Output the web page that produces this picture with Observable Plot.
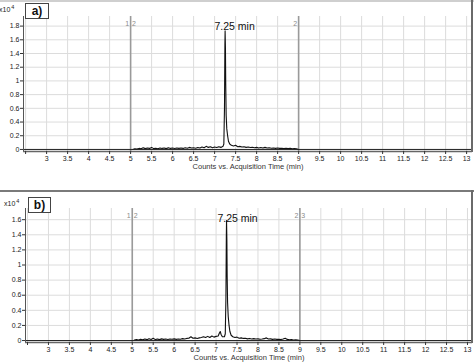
<!DOCTYPE html>
<html><head><meta charset="utf-8">
<script src="https://cdn.jsdelivr.net/npm/d3@7"></script>
<script src="https://cdn.jsdelivr.net/npm/@observablehq/plot@0.6"></script>
<style>
body{margin:0;background:#fff;font-family:"Liberation Sans",Arial,sans-serif;}
#wrap{position:relative;width:474px;height:364px;overflow:hidden;background:#fff;}
.abs{position:absolute;}
.tag{position:absolute;border:1px solid #444;background:#fff;font-weight:bold;font-size:12px;line-height:14px;text-align:center;color:#111;box-sizing:border-box;}
.exp{position:absolute;font-size:7px;color:#222;white-space:nowrap;line-height:8px;}
.exp sup{font-size:5.5px;vertical-align:3px;margin-left:1px;}
</style></head><body><div id="wrap"></div>
<script>
// ---- data (counts in units of 10^4) ----
const timesA = [5.05,5.1,5.15,5.2,5.25,5.3,5.35,5.4,5.45,5.5,5.55,5.6,5.65,5.7,5.75,5.8,5.85,5.9,5.95,6.0,6.05,6.1,6.15,6.2,6.25,6.3,6.35,6.4,6.45,6.5,6.55,6.6,6.65,6.7,6.75,6.8,6.85,6.9,6.95,7.0,7.05,7.1,7.15,7.2,7.22,7.235,7.245,7.25,7.258,7.265,7.275,7.29,7.31,7.33,7.36,7.4,7.45,7.5,7.55,7.6,7.65,7.7,7.75,7.8,7.85,7.9,7.95,8.0,8.05,8.1,8.15,8.2,8.25,8.3,8.35,8.4,8.45,8.5,8.55,8.6,8.65,8.7,8.75,8.8,8.85,8.9,8.95,9.0];
const countsA = [0.0,0.01,0.005,0.015,0.01,0.025,0.012,0.02,0.015,0.03,0.012,0.018,0.01,0.022,0.015,0.02,0.012,0.025,0.015,0.02,0.014,0.022,0.016,0.02,0.015,0.025,0.018,0.03,0.02,0.025,0.018,0.028,0.02,0.035,0.025,0.045,0.03,0.04,0.025,0.035,0.028,0.04,0.03,0.045,0.08,0.6,1.52,1.73,1.48,0.95,0.5,0.3,0.2,0.12,0.08,0.06,0.05,0.06,0.04,0.045,0.035,0.04,0.03,0.035,0.028,0.032,0.025,0.03,0.022,0.028,0.02,0.03,0.022,0.025,0.018,0.022,0.016,0.02,0.015,0.018,0.014,0.016,0.012,0.015,0.01,0.012,0.008,0.0];

const timesB = [5.05,5.1,5.15,5.2,5.25,5.3,5.35,5.4,5.45,5.5,5.55,5.6,5.65,5.7,5.75,5.8,5.85,5.9,5.95,6.0,6.05,6.1,6.15,6.2,6.25,6.3,6.35,6.4,6.45,6.5,6.55,6.6,6.65,6.7,6.75,6.8,6.85,6.9,6.95,7.0,7.05,7.08,7.1,7.12,7.15,7.2,7.22,7.235,7.245,7.25,7.258,7.265,7.275,7.29,7.31,7.33,7.36,7.4,7.45,7.5,7.55,7.6,7.65,7.7,7.75,7.8,7.85,7.9,7.95,8.0,8.05,8.1,8.15,8.2,8.25,8.3,8.35,8.4,8.45,8.5,8.55,8.6,8.65,8.7,8.75,8.8,8.85,8.9,8.95,9.0];
const countsB = [0.005,0.012,0.008,0.018,0.01,0.02,0.012,0.025,0.015,0.03,0.012,0.02,0.012,0.022,0.015,0.02,0.014,0.02,0.016,0.022,0.015,0.02,0.018,0.025,0.02,0.028,0.03,0.05,0.03,0.035,0.028,0.035,0.04,0.05,0.04,0.055,0.04,0.06,0.045,0.055,0.06,0.1,0.12,0.08,0.05,0.05,0.09,0.55,1.38,1.59,1.33,0.85,0.5,0.32,0.2,0.12,0.07,0.05,0.04,0.045,0.03,0.035,0.028,0.03,0.022,0.028,0.02,0.025,0.02,0.022,0.018,0.02,0.025,0.035,0.02,0.022,0.015,0.02,0.015,0.018,0.014,0.02,0.03,0.015,0.01,0.012,0.008,0.01,0.006,0.0];

const xTicks = [2.5,3,3.5,4,4.5,5,5.5,6,6.5,7,7.5,8,8.5,9,9.5,10,10.5,11,11.5,12,12.5,13];
const yTicksA = [0,0.2,0.4,0.6,0.8,1,1.2,1.4,1.6,1.8];
const yTicksB = [0,0.2,0.4,0.6,0.8,1,1.2,1.4,1.6];
const segmentTimes = [5, 9];
const segLabelsA = [{x:5,t:"1",side:"l"},{x:5,t:"2",side:"r"},{x:9,t:"2",side:"l"}];
const segLabelsB = [{x:5,t:"1",side:"l"},{x:5,t:"2",side:"r"},{x:9,t:"2",side:"l"},{x:9,t:"3",side:"r"}];
const peakTime = 7.25;
const peakLabel = "7.25 min";
const xLabel = "Counts vs. Acquisition Time (min)";

function panel(cfg){
  const data = cfg.times.map((t,i)=>({t, c: cfg.counts[i]}));
  const segL = cfg.seg.filter(d=>d.side==="l");
  const segR = cfg.seg.filter(d=>d.side==="r");
  return Plot.plot({
    width: 474, height: cfg.height,
    marginLeft: cfg.ml, marginRight: 2, marginTop: cfg.mt, marginBottom: cfg.mb,
    style: {fontFamily: "Liberation Sans, Arial, sans-serif", fontSize: "7px", color: "#222", background: "transparent", overflow: "visible"},
    x: {domain: cfg.xd},
    y: {domain: cfg.yd},
    marks: [
      Plot.gridX(xTicks, {stroke: "#dcdcdc", strokeOpacity: 1}),
      Plot.gridY(cfg.yTicks, {stroke: "#dcdcdc", strokeOpacity: 1}),
      Plot.ruleX(segmentTimes, {stroke: "#9a9a9a", strokeWidth: 1.6}),
      Plot.line(data, {x: "t", y: "c", stroke: "#111", strokeWidth: 1.1}),
      Plot.ruleY([0], {stroke: "#222", strokeWidth: 1}),
      Plot.ruleY([cfg.yd[0]], {stroke: "#666", strokeWidth: 1.4}),
      Plot.ruleX([cfg.xd[0]], {stroke: "#555", strokeWidth: 1}),
      Plot.axisX(xTicks, {tickSize: 3, tickPadding: 2, tickFormat: d => d === 2.5 ? "" : String(d), stroke: "#333", fill: "#222", label: null}),
      Plot.axisY(cfg.yTicks, {tickSize: 3, tickPadding: 1, tickFormat: d => String(d), stroke: "#333", fill: "#222", label: null}),
      Plot.text(segL, {x: "x", text: "t", textAnchor: "end", dx: -1.5, frameAnchor: "top", dy: cfg.segDy, fill: "#8a8a8a", fontSize: 7}),
      Plot.text(segR, {x: "x", text: "t", textAnchor: "start", dx: 1.5, frameAnchor: "top", dy: cfg.segDy, fill: "#8a8a8a", fontSize: 7}),
      Plot.text([peakTime], {x: d => d, text: () => peakLabel, frameAnchor: "top", dy: 6, dx: cfg.peakDx, fill: "#111", fontSize: 10.5}),
      Plot.text([xLabel], {text: d => d, frameAnchor: "bottom", dy: 17, fill: "#333", fontSize: 7.5})
    ]
  });
}

const wrap = document.getElementById("wrap");
function add(html, style, cls){
  const d = document.createElement("div");
  d.className = cls || "abs";
  d.style.cssText = style;
  d.innerHTML = html;
  wrap.appendChild(d);
  return d;
}

// panel a
const pa = panel({times: timesA, counts: countsA, height: 175, ml: 23, mt: 16, mb: 24,
  xd: [2.45, 13.14], yd: [-0.03, 1.94], yTicks: yTicksA, seg: segLabelsA, segDy: 5, peakDx: 9.5});
const da = add("", "left:0;top:0;");
da.appendChild(pa);
// panel b
const pb = panel({times: timesB, counts: countsB, height: 174, ml: 25, mt: 18, mb: 22,
  xd: [2.452, 13.12], yd: [-0.026, 1.748], yTicks: yTicksB, seg: segLabelsB, segDy: 4.5, peakDx: 11});
const db = add("", "left:0;top:190px;");
db.appendChild(pb);

// frames
add("", "left:0;top:0;width:474px;height:2px;background:#cfcfcf;");
add("", "left:471px;top:0;width:2px;height:152px;background:#6a6a6a;");
add("", "left:0;top:190px;width:474px;height:1.5px;background:#7a7a7a;");
add("", "left:471px;top:190px;width:2px;height:153px;background:#6a6a6a;");

// tags and exponents
add("a)", "left:25px;top:3px;width:24px;height:16px;", "tag");
add("b)", "left:28px;top:197px;width:23px;height:16px;", "tag");
add("x10<sup>4</sup>", "left:-1px;top:3px;", "exp");
add("x10<sup>4</sup>", "left:4px;top:197px;", "exp");
</script></body></html>
